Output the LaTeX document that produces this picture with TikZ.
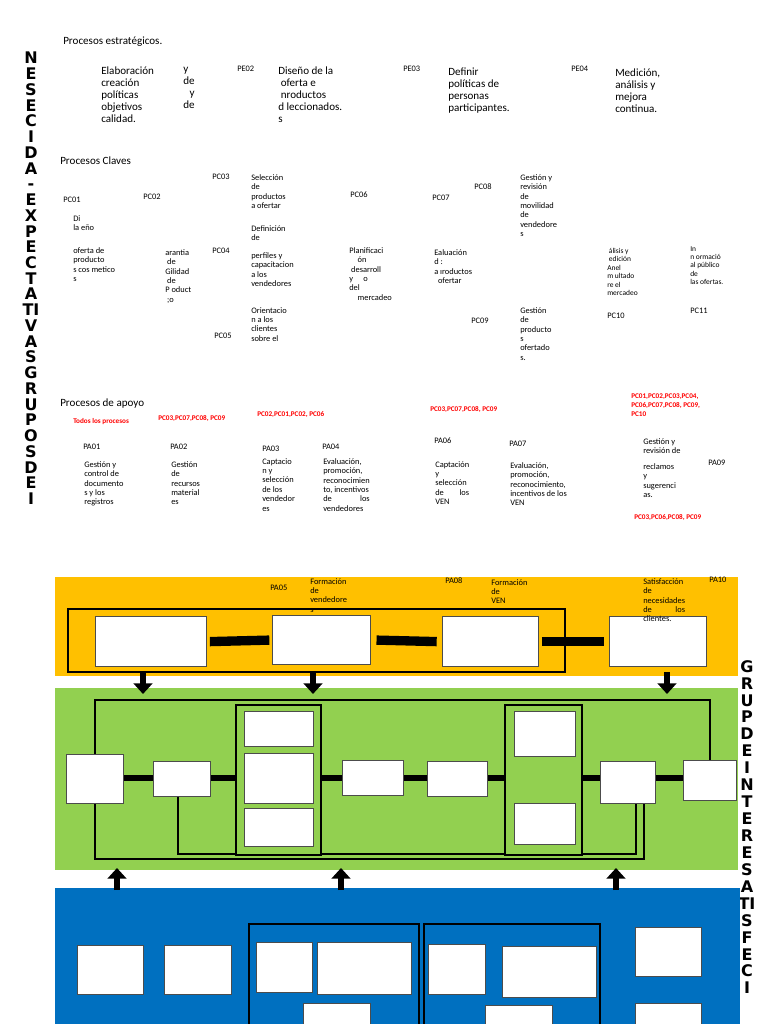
\documentclass[tikz,border=0pt]{standalone}
\usepackage{fontspec}
\setmainfont{Carlito}
\setsansfont{DejaVu Sans}
\begin{document}
\begin{tikzpicture}[x=0.75pt,y=-0.75pt,
 tA/.style={anchor=north west,inner sep=0,align=left,font=\fontsize{8.3}{9}\selectfont},
 tB/.style={anchor=north west,inner sep=0,align=left,font=\fontsize{6.3}{7.1}\selectfont},
 tC/.style={anchor=north west,inner sep=0,align=left,font=\fontsize{5.6}{6.3}\selectfont},
 red/.style={tC,text=red,font=\fontsize{5.4}{6.6}\selectfont\bfseries},
 wbox/.style={draw=black!70,line width=0.9pt,fill=white},
 frame/.style={draw=black,line width=1.5pt},
 thick line/.style={line width=5pt},
 brush/.style={line width=7pt},
 arr/.style={-{Triangle[width=14pt,length=8pt]},line width=5pt},
 vlet/.style={align=center,inner sep=0,font=\fontsize{12}{11.8}\selectfont\sffamily\bfseries},
 vlet2/.style={align=center,inner sep=0,font=\fontsize{12}{12.7}\selectfont\sffamily\bfseries}]
\usetikzlibrary{arrows.meta}
\useasboundingbox (0,0) rectangle (768,1024);
\fill[white] (0,0) rectangle (768,1024);
% vertical letters
\node[vlet,anchor=north] (lv) at (31,52) {N\\E\\S\\E\\C\\I\\D\\A\\-\\E\\X\\P\\E\\C\\T\\A\\TI\\V\\A\\S\\G\\R\\U\\P\\O\\S\\D\\E\\I};
\node[vlet2,anchor=north] (rv) at (747,660) {G\\R\\U\\P\\D\\E\\I\\N\\T\\E\\R\\E\\S\\A\\TI\\S\\F\\E\\C\\I};
% strategic
\node[tA] (h1) at (63,37) {Procesos estratégicos.};
\node[tA] (e1) at (101,67) {Elaboración\\creación\\políticas\\objetivos\\calidad.};
\node[tA] (e1b) at (183,67) {\hfill y\\de\\\hfill y\\de};
\node[tB] (pe2) at (237,66) {PE02};
\node[tA] (e2) at (278,67) {Diseño de la\\\ oferta e\\\ nroductos\\d leccionados.\\s};
\node[tB] (pe3) at (403,66) {PE03};
\node[tA] (e3) at (448,68) {Definir\\políticas de\\personas\\participantes.};
\node[tB] (pe4) at (571,66) {PE04};
\node[tA] (e4) at (615,69) {Medición,\\análisis y\\mejora\\continua.};
% claves
\node[tA] (h2) at (60,157) {Procesos Claves};
\node[tB] (pc3) at (212,174) {PC03};
\node[tB] (c3) at (251,174) {Selección\\de\\productos\\a ofertar};
\node[tB] (pc8) at (474,183) {PC08};
\node[tB] (c8) at (520,174) {Gestión y\\revisión\\de\\movilidad\\de\\vendedore\\s};
\node[tB] (pc1) at (63,197) {PC01};
\node[tB] (pc2) at (143,194) {PC02};
\node[tB] (pc6) at (350,192) {PC06};
\node[tB] (pc7) at (432,195) {PC07};
\node[tB] (c1a) at (73,215) {Di\\la eño};
\node[tB] (c4a) at (251,225) {Definición\\de};
\node[tB] (c1) at (73,247) {oferta de\\producto\\s cos metico\\s};
\node[tB] (c2) at (165,249) {arantia\\\ de\\Gilidad\\\ de\\P oduct\\\ ;o};
\node[tB] (pc4) at (212,248) {PC04};
\node[tB] (c4) at (251,252) {perfiles y\\capacitacion\\a los\\vendedores};
\node[tB] (c6) at (349,247) {Planificaci\\\quad ón\\\ desarroll\\y \quad o\\del\\\quad mercadeo};
\node[tB] (c7) at (434,249) {Ealuación\\d :\\a ıroductos\\\ \ ofertar};
\node[tC] (c10) at (607,248) {\ álisis y\\\ edición\\Anel\\m ultado\\re el\\mercadeo};
\node[tC] (c11) at (690,246) {In\\n ormació\\al público\\de\\las ofertas.};
\node[tB] (c5) at (251,307) {Orientacio\\n a los\\clientes\\sobre el};
\node[tB] (pc9) at (471,318) {PC09};
\node[tB] (c9) at (520,307) {Gestión\\de\\producto\\s\\ofertado\\s.};
\node[tB] (pc10) at (607,313) {PC10};
\node[tB] (pc11) at (690,308) {PC11};
\node[tB] (pc5) at (214,333) {PC05};
% apoyo
\node[tA] (h3) at (60,399) {Procesos de apoyo};
\node[red] (r1) at (73,418) {Todos los procesos};
\node[red] (r2) at (158,415) {PC03,PC07,PC08, PC09};
\node[red] (r3) at (257,411) {PC02,PC01,PC02, PC06};
\node[red] (r4) at (430,406) {PC03,PC07,PC08, PC09};
\node[red] (r5) at (631,394) {PC01,PC02,PC03,PC04,\\PC06,PC07,PC08, PC09,\\PC10};
\node[tB] (pa1) at (83,444) {PA01};
\node[tB] (pa2) at (170,444) {PA02};
\node[tB] (pa3) at (262,446) {PA03};
\node[tB] (pa4) at (322,444) {PA04};
\node[tB] (pa6) at (434,438) {PA06};
\node[tB] (pa7) at (509,441) {PA07};
\node[tB] (pa9) at (708,460) {PA09};
\node[tB] (a1) at (84,461) {Gestión y\\control de\\documento\\s y los\\registros};
\node[tB] (a2) at (171,461) {Gestión\\de\\recursos\\material\\es};
\node[tB] (a3) at (262,458) {Captacio\\n y\\selección\\de los\\vendedor\\es};
\node[tB] (a4) at (323,458) {Evaluación,\\promoción,\\reconocimien\\to, incentivos\\de \hfill los\\vendedores};
\node[tB] (a6) at (435,461) {Captación\\y\\selección\\de \hfill los\\VEN};
\node[tB] (a7) at (510,462) {Evaluación,\\promoción,\\reconocimiento,\\incentivos de los\\VEN};
\node[tB] (a9a) at (643,438) {Gestión y\\revisión de};
\node[tB] (a9) at (643,463) {reclamos\\y\\sugerenci\\as.};
\node[red] (r6) at (634,514) {PC03,PC06,PC08, PC09};
% bands
\fill[fill={rgb,255:red,255;green,192;blue,0}] (55,577) rectangle (738,676);
\fill[fill={rgb,255:red,146;green,208;blue,80}] (55,688) rectangle (738,870);
\fill[fill={rgb,255:red,0;green,112;blue,192}] (55,888) rectangle (740,1024);
% orange content
\draw[frame] (68,609) rectangle (565,672);
\node[wbox,minimum width=83.25pt,minimum height=37.5pt,anchor=north west] (o1) at (95,616) {};
\node[wbox,minimum width=73.5pt,minimum height=36.75pt,anchor=north west] (o2) at (272,615) {};
\node[wbox,minimum width=72pt,minimum height=37.5pt,anchor=north west] (o3) at (442,616) {};
\node[wbox,minimum width=72.75pt,minimum height=37.5pt,anchor=north west] (o4) at (609,616) {};
\draw[brush] ([xshift=2pt]o1.east) -- ([xshift=-2pt]o2.west);
\draw[brush] ([xshift=4pt]o2.east) -- ([xshift=-4pt]o3.west);
\draw[brush] ([xshift=2pt]o3.east) -- ([xshift=-4pt]o4.west);
\node[tB] (pa5) at (270,585) {PA05};
\node[tB] (f5) at (310,578) {Formación\\de\\vendedore\\s};
\node[tB] (pa8) at (445,577) {PA08};
\node[tB] (f8) at (491,579) {Formación\\de\\VEN};
\node[tB] (f10) at (643,578) {Satisfacción\\de\\necesidades\\de \hfill los\\clientes.};
\node[tB] (pa10) at (709,577) {PA10};
% arrows down
\coordinate (d1s) at (143,672); \coordinate (d1e) at (143,694);
\coordinate (d2s) at (313,672); \coordinate (d2e) at (313,694);
\coordinate (d3s) at (667,672); \coordinate (d3e) at (667,694);
\draw[arr] (d1s) -- (d1e); \draw[arr] (d2s) -- (d2e); \draw[arr] (d3s) -- (d3e);
% green content
\draw[frame,line width=2.2pt] (95,755) -- (95,700) -- (710,700) -- (710,760);
\draw[frame,line width=2.2pt] (95,800) -- (95,859) -- (644,859) -- (644,792);
\draw[frame,line width=2.2pt] (178,796) -- (178,854) -- (636,854) -- (636,792);
\draw[thick line] (123,778) -- (683,778);
\draw[frame,fill={rgb,255:red,146;green,208;blue,80}] (236,705) rectangle (321,855);
\draw[frame,fill={rgb,255:red,146;green,208;blue,80}] (505,705) rectangle (582,855);
\node[wbox,minimum width=42.75pt,minimum height=36.75pt,anchor=north west] (g1) at (66,754) {};
\node[wbox,minimum width=42.75pt,minimum height=26.25pt,anchor=north west] (g2) at (153,761) {};
\node[wbox,minimum width=51.75pt,minimum height=26.25pt,anchor=north west] (g3a) at (244,711) {};
\node[wbox,minimum width=51.75pt,minimum height=37.5pt,anchor=north west] (g3b) at (244,753) {};
\node[wbox,minimum width=51.75pt,minimum height=28.5pt,anchor=north west] (g3c) at (244,808) {};
\node[wbox,minimum width=45.75pt,minimum height=26.25pt,anchor=north west] (g4) at (342,760) {};
\node[wbox,minimum width=45pt,minimum height=26.25pt,anchor=north west] (g5) at (427,761) {};
\node[wbox,minimum width=45.75pt,minimum height=33.75pt,anchor=north west] (g6a) at (514,711) {};
\node[wbox,minimum width=45.75pt,minimum height=30.75pt,anchor=north west] (g6b) at (514,803) {};
\node[wbox,minimum width=41.25pt,minimum height=31.5pt,anchor=north west] (g7) at (600,761) {};
\node[wbox,minimum width=39.75pt,minimum height=30pt,anchor=north west] (g8) at (683,760) {};
% arrows up
\coordinate (u1s) at (117,890); \coordinate (u1e) at (117,868);
\coordinate (u2s) at (341,890); \coordinate (u2e) at (341,868);
\coordinate (u3s) at (616,890); \coordinate (u3e) at (616,868);
\draw[arr] (u1s) -- (u1e); \draw[arr] (u2s) -- (u2e); \draw[arr] (u3s) -- (u3e);
% blue content
\draw[frame] (249,924) rectangle (419,1030);
\draw[frame] (424,924) rectangle (600,1030);
\node[wbox,minimum width=49.5pt,minimum height=36.75pt,anchor=north west] (b1) at (77,945) {};
\node[wbox,minimum width=50.25pt,minimum height=36.75pt,anchor=north west] (b2) at (164,945) {};
\node[wbox,minimum width=42pt,minimum height=37.5pt,anchor=north west] (b3) at (256,942) {};
\node[wbox,minimum width=70.5pt,minimum height=39pt,anchor=north west] (b4) at (317,942) {};
\node[wbox,minimum width=50.25pt,minimum height=20pt,anchor=north west] (b5) at (303,1003) {};
\node[wbox,minimum width=42.75pt,minimum height=37.5pt,anchor=north west] (b6) at (428,944) {};
\node[wbox,minimum width=70.5pt,minimum height=38.25pt,anchor=north west] (b7) at (502,946) {};
\node[wbox,minimum width=50.25pt,minimum height=20pt,anchor=north west] (b8) at (485,1005) {};
\node[wbox,minimum width=49.5pt,minimum height=36.75pt,anchor=north west] (b9) at (635,927) {};
\node[wbox,minimum width=49.5pt,minimum height=20pt,anchor=north west] (b10) at (635,1003) {};
\end{tikzpicture}
\end{document}
